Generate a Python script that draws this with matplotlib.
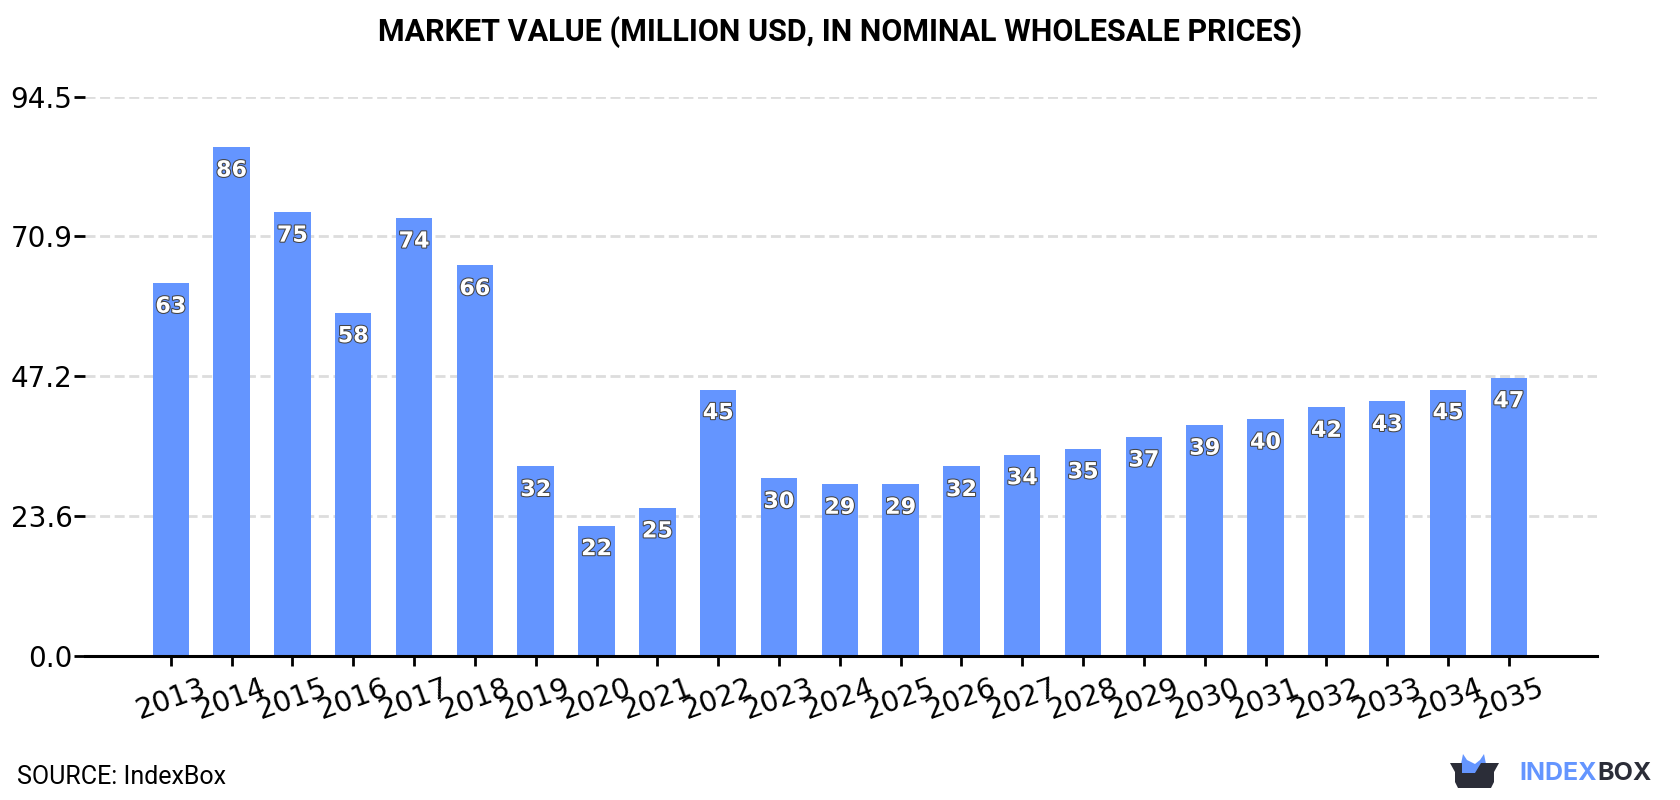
import matplotlib
matplotlib.use("Agg")
import matplotlib.pyplot as plt
import matplotlib.patheffects as pe
from matplotlib.patches import Polygon

years = list(range(2013, 2036))
values = [63, 86, 75, 58, 74, 66, 32, 22, 25, 45, 30, 29, 29, 32, 34, 35, 37, 39, 40, 42, 43, 45, 47]
yticks = [0.0, 23.6, 47.2, 70.9, 94.5]

BLUE = "#6495ff"
DARK = "#2b2d38"
W, H = 1680, 800

fig = plt.figure(figsize=(16.8, 8), dpi=100, facecolor="white")
ax = fig.add_axes([85 / W, 1 - 655.7 / H, (1597 - 85) / W, (655.7 - 96.7) / H])

ax.bar(range(len(years)), values, width=0.6, color=BLUE, zorder=3)
ax.set_xlim(-1.41, 23.45)
ax.set_ylim(0, 94.5)

# value labels sit just under the top of each bar
for i, v in enumerate(values):
    ax.annotate(str(v), (i, v), xytext=(0, -17), textcoords="offset points",
                ha="center", va="center", color="white", fontsize=16,
                fontweight="bold", family="DejaVu Sans", zorder=5,
                path_effects=[pe.withStroke(linewidth=1.5, foreground="#444444")])

ax.set_yticks(yticks)
ax.set_yticklabels([f"{t:.1f}" for t in yticks], fontsize=20, family="DejaVu Sans")
ax.set_xticks(range(len(years)))
ax.set_xticklabels(years, rotation=20, fontsize=20.5, family="DejaVu Sans")
ax.tick_params(axis="y", length=8, width=2, pad=1, color="black")
ax.tick_params(axis="x", length=7, width=2, pad=6, color="black")

ax.grid(axis="y", color="#dddddd", linewidth=2, linestyle=(0, (3.6, 1.65)), zorder=1)
ax.set_axisbelow(True)
for s in ["top", "right", "left"]:
    ax.spines[s].set_visible(False)
ax.spines["bottom"].set_linewidth(2.2)
ax.spines["bottom"].set_zorder(6)

fig.text(840 / W, 1 - 32 / H, "MARKET VALUE (MILLION USD, IN NOMINAL WHOLESALE PRICES)",
         ha="center", va="center", fontsize=22, fontweight="bold", family="Roboto")
fig.text(17 / W, 1 - 776.5 / H, "SOURCE: IndexBox", ha="left", va="center",
         fontsize=18, family="Roboto")

# logo, laid out in pixel coordinates
logo = fig.add_axes([0, 0, 1, 1], facecolor="none")
logo.set_xlim(0, W)
logo.set_ylim(H, 0)
logo.axis("off")
logo.add_patch(Polygon([(1461, 764), (1463, 754), (1467, 760), (1475, 764), (1480, 760),
                        (1484, 754), (1486, 764), (1486, 775), (1461, 775)],
                       closed=True, color=BLUE, lw=0))
logo.add_patch(Polygon([(1450, 763), (1462, 763), (1462, 773), (1475, 773), (1481, 763),
                        (1499, 763), (1494, 772), (1494, 782), (1491, 788), (1458, 788),
                        (1455, 782), (1455, 772)],
                       closed=True, color=DARK, lw=0))
logo.text(1597, 773.5, "INDEX", ha="right", va="center", fontsize=18,
          fontweight="bold", family="Inter", color=BLUE)
logo.text(1597, 773.5, "BOX", ha="left", va="center", fontsize=18,
          fontweight="bold", family="Inter", color=DARK)

fig.savefig("out.png", dpi=100)
